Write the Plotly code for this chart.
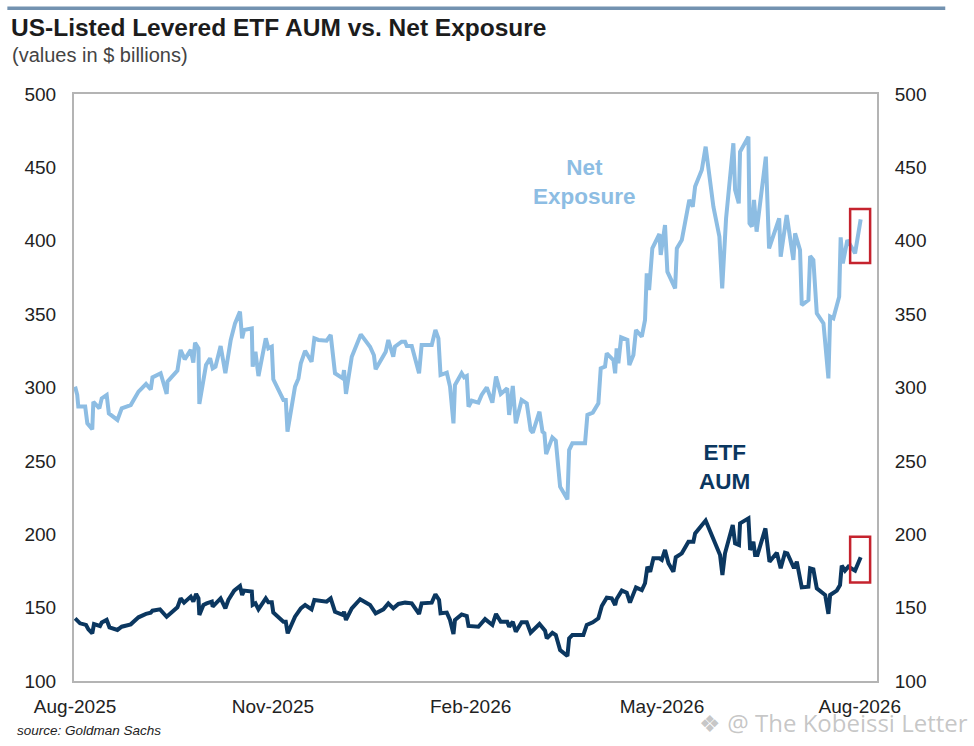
import pandas as pd
import plotly.graph_objects as go

START = pd.Timestamp("2025-08-01")

# days since START and value in $ billions
net_days = [0, 1, 1.5, 4.7, 5.7, 8, 8.5, 11.3, 12.4, 14.7, 15.7, 19.7, 21.7, 25.9, 29.5, 33, 35.2, 36, 39.8, 42.6,
	43, 47.6, 49.1, 51, 53.8, 55, 55.8, 57.4, 57.8, 60.9, 62.8, 64, 65.3, 67.7, 69.9, 72.4, 74.4, 76.7, 77.7, 78.6,
	82.2, 82.6, 83.9, 85.3, 88.7, 89.9, 91.5, 92.2, 96.9, 98, 98.8, 102.3, 103.9, 105, 107, 110, 111.3, 113.2, 117, 118.9,
	120.9, 124.5, 125.1, 126, 128.7, 132.9, 137.2, 139, 139.8, 142.6, 144.5, 145.7, 148, 148.8, 151.9, 153.5, 154.3, 156.6, 160, 161.2,
	165.9, 167.6, 169, 170, 172.9, 174.4, 176, 176.7, 179.8, 181, 182.2, 183, 184.5, 187.6, 189.1, 191.5, 194.1, 195.8, 198, 201,
	201.9, 203.6, 205, 207.7, 210.1, 211.9, 212.9, 216, 217.4, 218.3, 219.1, 222, 223.6, 225.6, 229, 229.8, 231.3, 237.2, 238.3, 240.8,
	243.4, 244.5, 246.5, 247.3, 250.4, 251.2, 251.9, 252.7, 254, 256.9, 257.8, 259.7, 260.9, 263.6, 265.1, 265.9, 267, 268.5, 271.8, 272.4,
	274.4, 275.5, 279.1, 279.9, 282.2, 285.7, 287.3, 288.4, 291.5, 293.3, 296.9, 299.7, 301, 302.8, 306.2, 307, 308.7, 309.3, 313.2, 313.7,
	314.8, 315.8, 317, 321.3, 322.8, 327.5, 328.2, 331, 334.1, 334.9, 337.2, 338, 341.1, 341.9, 343.4, 345, 348.1, 350.4, 351.2, 352.7,
	355.4, 356.1, 357.1, 359.2, 362.8, 365.4]
net_exposure = [300.6, 295, 287, 287, 275.6, 271.5, 290.3, 285.8, 292.6, 294.9, 282.4, 277.9, 285.8, 288, 297.2, 302.4, 298.7, 306.9, 309.7, 295.6,
	304, 311.5, 325.6, 319.2, 325.6, 316.9, 330.5, 326.7, 288.8, 315.3, 319.9, 313, 314.2, 328.3, 309.7, 332.4, 343.7, 351.7, 333.5, 339.2,
	340.3, 314.2, 324.4, 307.8, 333.5, 326.7, 327.8, 305.6, 291.5, 291.5, 269.9, 300.6, 306.2, 316.5, 325, 317.6, 333.5, 332.4, 331.9, 335.8,
	309.7, 306.2, 311.9, 295.6, 321, 336.2, 327.8, 322, 312.4, 319.9, 324.4, 332.4, 321, 327.8, 331.2, 331.2, 328.3, 328.3, 309.7, 329,
	329, 339.2, 333.5, 308.5, 310.1, 300.6, 275.6, 301.7, 309.7, 306.9, 307.8, 286.9, 291, 289.7, 294.9, 300.1, 289.7, 307.4, 295.6, 299.4,
	281.3, 301, 275.6, 291.5, 289.2, 271, 269.2, 283.5, 269.9, 268.8, 254.7, 266, 263.8, 232.4, 223.8, 257.4, 262, 262, 281.3, 282.9,
	289.2, 313, 314.2, 323.3, 318.7, 309.7, 326.7, 316.5, 334.2, 332.4, 315.3, 322.1, 339.2, 334.6, 346, 377.8, 366.4, 394.8, 404.6, 390.3,
	410.7, 378.9, 367.6, 394.8, 400.5, 427.8, 423.2, 436.9, 448.2, 464.1, 423.2, 402.8, 367.6, 415.3, 466.4, 434.6, 425.5, 460.7, 470.9, 411.9,
	409.6, 427.8, 406.2, 457.3, 394.8, 415.3, 389.2, 417.5, 386.9, 405, 393.7, 356.2, 359.6, 389.6, 386.9, 350.5, 343.7, 306.2, 348.3, 347.1,
	361.9, 402.3, 384.6, 400.5, 391.4, 414.6]

aum_days = [0, 2.3, 5.1, 6.2, 8, 8.8, 11.6, 12.4, 14.7, 16, 19.7, 21.7, 25.9, 29.5, 33, 35.2, 36, 39.5, 42.6, 47.6,
	49.1, 50.7, 53.8, 55, 56.3, 57.4, 57.8, 59.7, 61.2, 63.6, 64, 67.7, 69.9, 71.3, 74, 76.7, 77.7, 78.6, 82.2, 82.6,
	83.9, 85.3, 88.7, 89.9, 91.5, 92.2, 96.9, 98, 98.9, 102.3, 105, 107, 110, 111.3, 117, 118.9, 120.9, 124.5, 125.1, 126,
	128.7, 132.6, 137.2, 139.8, 143.4, 145.7, 148, 150.4, 153.5, 156.6, 160, 161.2, 165.9, 167.6, 169.3, 170, 172.9, 174.4, 176, 176.7,
	179.8, 182.2, 183, 187.6, 190.7, 194.1, 195.8, 198, 201, 201.9, 203.6, 205, 207.7, 210.1, 211.9, 216, 218.6, 219.4, 222, 223.6,
	225.6, 229, 229.8, 231.3, 236.4, 238, 240.8, 243.4, 245, 247.3, 249.6, 251.2, 251.9, 254.3, 256.6, 258.1, 260.9, 263.6, 265.1, 266.2,
	267.5, 269, 271.8, 272.9, 274.4, 276, 278.3, 279.4, 282.2, 285.3, 287.6, 288.4, 293.3, 297.7, 300, 301.1, 302.3, 305.9, 307, 308.8,
	309.3, 313.2, 314, 315.5, 316.3, 317.4, 321.1, 323, 326.4, 328.2, 330.2, 331.3, 334.4, 335.7, 338, 341.1, 341.9, 343.4, 345, 348.9,
	350.4, 351.2, 354.3, 355.8, 356.6, 358.1, 359.7, 362.8, 365.4]
etf_aum = [142.7, 139.3, 138.2, 135.2, 132.5, 138.8, 137.5, 139.8, 141.6, 136.6, 134.8, 137, 138.6, 143.4, 145.7, 146.6, 147.9, 148.8, 143.8, 150.2,
	156.3, 153.4, 157.5, 154.1, 159.3, 156.3, 145, 151.8, 152.9, 154.1, 150.7, 156.3, 149.5, 155.2, 161.6, 164.7, 158.6, 161.6, 160.9, 151.8,
	152.9, 148.8, 156.3, 153.6, 153.6, 146.6, 140.4, 140.4, 132.5, 143.8, 149.5, 151.8, 148.8, 155.2, 154.1, 156.3, 147.2, 145, 147.2, 141.6,
	149.5, 155.7, 151.8, 146.1, 148.8, 152.9, 149.5, 152.5, 153.4, 152.9, 145.7, 152.9, 153.4, 159.1, 155.2, 146.1, 146.6, 141.6, 132, 141.6,
	145.4, 144.3, 137.5, 137, 142.2, 138.2, 145.7, 140.4, 140.4, 137, 140.4, 133.6, 140, 140, 132.9, 138.8, 134.3, 129.1, 132.9, 131.3,
	121.1, 117, 129.1, 131.3, 131.3, 138.2, 140, 142.7, 151.1, 156.8, 156.3, 151.8, 155.9, 161.6, 160.2, 153.4, 163.8, 162, 166.6, 177.9,
	174.5, 183.6, 183.6, 182.5, 189.3, 180.2, 174.5, 184.3, 187, 194.9, 194.9, 200.6, 209.3, 192.7, 185.9, 172.2, 187, 206.3, 193.8, 192.7,
	207.4, 210.8, 189.3, 194.9, 185.9, 185.9, 204, 181.3, 187.4, 176.8, 187.4, 187, 176.8, 181.3, 163.8, 164.3, 176.8, 176.1, 163.1, 158.6,
	145.7, 158.6, 161.6, 165.4, 178.6, 175.2, 177.9, 175.2, 184.3]

x_ticks = ["2025-08-01", "2025-11-01", "2026-02-01", "2026-05-01", "2026-08-01"]
x_labels = ["Aug-2025", "Nov-2025", "Feb-2026", "May-2026", "Aug-2026"]
y_ticks = [100, 150, 200, 250, 300, 350, 400, 450, 500]

#HIGHLIGHT BOXES ROUND THE LATEST READINGS
box_days = [360.5, 369.8]
net_box = [384.8, 421.6]
aum_box = [167.2, 198.3]

NET_COLOR = "#8dbde3"
AUM_COLOR = "#0b3760"
FRAME = "#b4b4b4"
TEXT = "#222222"


def to_dates(days):
	return [START + pd.Timedelta(days=d) for d in days]


fig = go.Figure()
fig.add_trace(go.Scatter(x=to_dates(net_days), y=net_exposure, mode="lines", name="Net Exposure",
	line=dict(color=NET_COLOR, width=4, shape="linear")))
fig.add_trace(go.Scatter(x=to_dates(aum_days), y=etf_aum, mode="lines", name="ETF AUM", yaxis="y2",
	line=dict(color=AUM_COLOR, width=4, shape="linear")))

for y_range in (net_box, aum_box):
	fig.add_shape(type="rect", xref="x", yref="y",
		x0=START + pd.Timedelta(days=box_days[0]), x1=START + pd.Timedelta(days=box_days[1]),
		y0=y_range[0], y1=y_range[1], line=dict(color="#c5232e", width=2.5))

# top rule
fig.add_shape(type="rect", xref="paper", yref="paper", x0=-0.083, x1=1.085, y0=1.149, y1=1.143,
	line_width=0, fillcolor="#7392b0")

axis_font = dict(family="Liberation Sans", size=19, color=TEXT)
y_common = dict(range=[100, 500], tickvals=y_ticks, showgrid=False, zeroline=False, ticks="",
	tickfont=axis_font, ticklabelstandoff=12, showline=True, linecolor=FRAME, linewidth=2)

fig.update_layout(
	width=974, height=746,
	margin=dict(l=74, r=97, t=94, b=65, pad=0),
	paper_bgcolor="white", plot_bgcolor="white",
	showlegend=False,
	xaxis=dict(range=[START - pd.Timedelta(days=0.5), START + pd.Timedelta(days=373)],
		tickvals=x_ticks, ticktext=x_labels, showgrid=False, zeroline=False, ticks="",
		tickfont=axis_font, ticklabelstandoff=7, showline=True, linecolor=FRAME, linewidth=2, mirror=True),
	yaxis=dict(side="left", **y_common),
	yaxis2=dict(side="right", overlaying="y", **y_common),
)

fig.add_annotation(text="<b>US-Listed Levered ETF AUM vs. Net Exposure</b>", xref="paper", yref="paper",
	x=-0.081, y=1.114, xanchor="left", yanchor="middle", showarrow=False,
	font=dict(family="Liberation Sans", size=24.5, color="#1c1c1c"))
fig.add_annotation(text="(values in $ billions)", xref="paper", yref="paper",
	x=-0.08, y=1.067, xanchor="left", yanchor="middle", showarrow=False,
	font=dict(family="Liberation Sans", size=20, color="#444444"))
fig.add_annotation(text="<b>Net<br>Exposure</b>", x=START + pd.Timedelta(days=237), y=440, yref="y",
	showarrow=False, font=dict(family="Liberation Sans", size=22.5, color=NET_COLOR), align="center")
fig.add_annotation(text="<b>ETF<br>AUM</b>", x=START + pd.Timedelta(days=302), y=246, yref="y",
	showarrow=False, font=dict(family="Liberation Sans", size=22.5, color=AUM_COLOR), align="center")
fig.add_annotation(text="<i>source: Goldman Sachs</i>", xref="paper", yref="paper",
	x=-0.074, y=-0.085, xanchor="left", yanchor="middle", showarrow=False,
	font=dict(family="Liberation Sans", size=13.5, color="#222222"))
fig.add_annotation(text="❖ @ The Kobeissi Letter", xref="paper", yref="paper",
	x=1.116, y=-0.07, xanchor="right", yanchor="middle", showarrow=False,
	font=dict(family="Open Sans", size=24, color="rgba(150,150,150,0.55)"))

fig.write_html("out.html", post_script="document.body.style.margin='0';", config=dict(displayModeBar=False))
